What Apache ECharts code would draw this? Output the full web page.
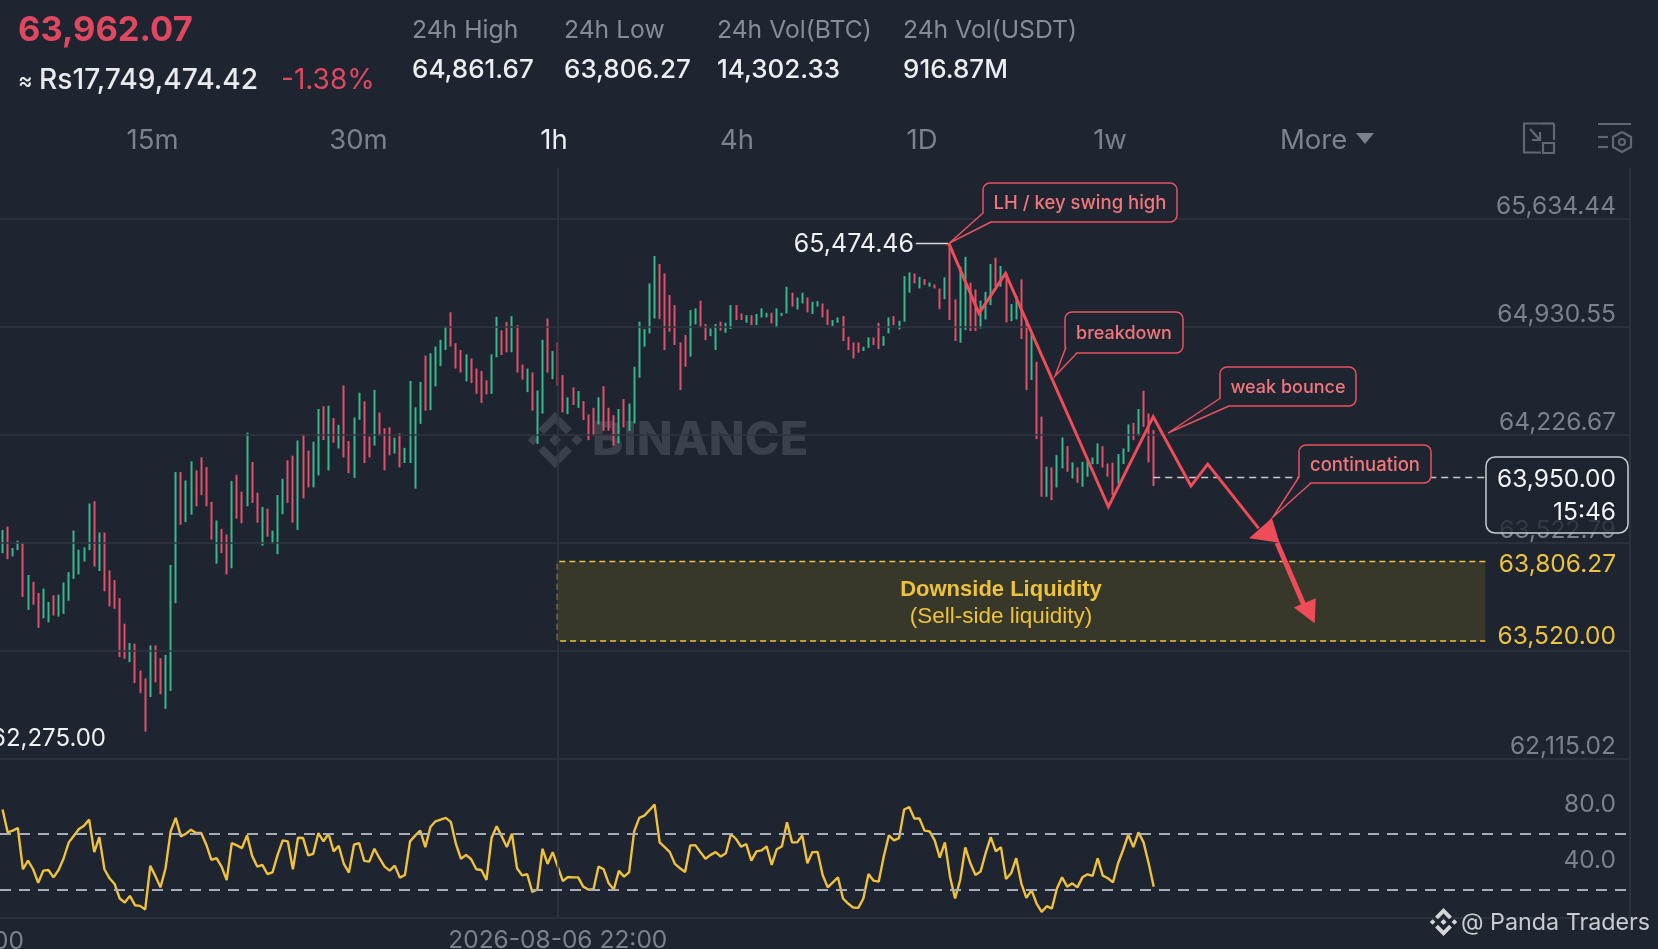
<!DOCTYPE html>
<html><head><meta charset="utf-8">
<style>html,body{margin:0;padding:0;background:#1e2430;overflow:hidden}#c{width:1658px;height:949px}</style>
<script src="https://cdn.jsdelivr.net/npm/echarts@6/dist/echarts.min.js"></script>
</head><body><div id="c"></div>
<script>
const candleDir = "GRGGRGRRGG"+"RGGGGGGGRG"+"RRRRRGRRRG"+"RRGGGRGGRR"+"RRGRRGRRGR"+"RGRGGGRRGR"+"RGGRGRGRRG"+"GRRGRRRGRG"+"GGGRGGGGRR"+"RGRRRRGGRR"+"GRRGRGGRGR"+"RGRGRRRGRR"+"RGRGGGGGGR"+"RRRRRGGRRG"+"GRGGRRGRGG"+"GRGGGRGGRG"+"GRRGGRRRRG"+"GRRGGRGGGR"+"GRGRRGRRGG"+"RRGGGRGRGG"+"RRGRRGRGGR"+"GRGGGGRRRG"+"GGRGRRR";
const candleHigh = [
63608,63630,63490,63538,63523,63314,63270,63197,63226,63138,
63182,63186,63265,63333,63604,63479,63494,63780,63795,63591,
63591,63344,63281,63164,62997,62871,62867,62691,62640,62856,
62856,62772,62794,63380,63985,63985,63930,64055,63996,64081,
64018,63791,63670,63615,63578,63927,63967,63857,64242,64051,
63850,63758,63747,63604,63835,63941,64062,64092,64191,64231,
64125,64183,64396,64414,64418,64337,64293,64550,64187,64341,
64502,64447,64216,64521,64374,64271,64277,64209,64238,64143,
64579,64407,64572,64744,64759,64803,64847,64935,65027,64825,
64781,64752,64726,64660,64645,64583,64752,64997,64909,64964,
65001,64942,64686,64660,64634,64517,64847,64986,64774,64830,
64617,64472,64537,64513,64448,64361,64404,64472,64545,64404,
64356,64396,64461,64432,64671,64965,64917,65215,65393,65341,
65280,65139,65073,64830,64878,65041,65052,65102,64950,64921,
64950,64965,64958,65073,65073,65019,65008,65008,65015,65052,
65023,65023,65052,65023,65193,65154,65123,65154,65123,65095,
65099,65084,65045,64976,64993,65002,64867,64830,64830,64802,
64863,64863,64958,64871,64993,65002,64971,65262,65286,65280,
65258,65243,65221,65208,65182,65254,65475,65110,65323,65388,
65219,65175,65102,65160,65341,65382,65328,65280,65080,65132,
65241,64976,64889,64704,64346,64020,64015,64096,64211,64154,
64048,64015,64052,64059,64081,64172,64154,64041,64046,64102,
64139,64296,64306,64396,64515,64367,64259];
const candleLow = [
63457,63417,63435,63476,63171,63087,63120,62970,63032,63006,
63050,63043,63061,63146,63289,63318,63402,63476,63369,63340,
63208,63109,63094,62779,62768,62746,62610,62544,62293,62519,
62614,62537,62442,62559,63131,63641,63659,63707,63762,63835,
63762,63545,63388,63457,63318,63358,63681,63652,63762,63784,
63655,63505,63564,63516,63450,63710,63784,63655,63608,63813,
63886,63886,63963,64194,63996,64176,64139,64081,63978,63947,
64326,64044,64081,64158,64220,63996,64095,64106,64015,64044,
64044,63877,64299,64385,64389,64543,64675,64781,64803,64660,
64634,64576,64565,64495,64436,64491,64495,64733,64748,64766,
64766,64634,64587,64506,64385,64169,64367,64634,64591,64548,
64374,64363,64422,64404,64324,64193,64222,64296,64254,64254,
64157,64172,64276,64254,64302,64600,64802,64889,64986,64982,
64780,64900,64813,64519,64671,64737,64947,64928,64845,64871,
64780,64906,64893,64917,64976,64976,64958,64943,64943,64993,
64993,64954,64928,65002,65019,65063,65045,65084,65026,65015,
65063,64993,64943,64937,64958,64839,64780,64726,64763,64774,
64795,64813,64787,64808,64889,64943,64915,64965,65154,65215,
65182,65204,65193,65182,65047,65112,64976,64839,64828,64910,
64904,64904,64921,64980,65073,65193,65193,64960,64969,64980,
64852,64519,64585,64200,63824,63824,63802,63885,64009,63987,
63944,63915,63889,63955,64037,64037,64015,63955,63835,63911,
64037,64117,64193,64220,64280,64048,63894];
const rsiValues = [
97.6,81.2,82.4,84.3,54.7,60.9,54.7,45.0,53.7,54.2,
48.9,54.2,62.6,74.0,78.8,83.6,86.0,90.3,67.0,77.8,
54.7,48.2,44.1,33.7,30.8,35.6,28.9,28.4,25.8,57.1,
49.9,41.7,55.4,81.9,91.6,78.3,80.2,83.1,80.7,80.7,
72.3,61.4,62.6,56.6,47.0,73.5,71.8,69.9,79.0,64.3,
56.6,57.8,51.3,52.5,65.0,75.4,74.7,54.7,77.3,77.1,
64.6,65.8,80.7,74.7,80.2,67.5,71.6,58.5,52.3,72.3,
73.5,60.7,60.2,69.4,62.6,56.6,53.7,57.3,48.7,50.6,
74.7,78.8,82.4,70.6,85.0,89.1,90.3,91.6,88.7,73.0,
62.2,65.0,61.9,54.7,54.2,47.0,77.1,85.5,78.3,70.6,
80.2,55.4,50.3,51.1,38.5,40.2,69.4,58.5,67.0,56.6,
46.2,49.1,48.9,48.9,42.2,40.2,40.2,56.6,54.7,44.6,
40.2,53.5,49.4,52.5,81.9,91.6,93.2,97.1,101.2,74.0,
70.6,67.0,58.5,55.4,52.8,71.8,72.0,67.0,62.2,65.0,
67.0,63.8,66.2,80.0,76.4,70.8,72.8,60.9,67.5,68.2,
71.1,57.8,69.1,71.1,88.4,74.0,74.0,79.0,59.0,67.0,
67.2,50.6,41.7,45.3,48.9,33.7,30.1,27.2,27.0,33.7,
51.3,46.5,45.8,63.8,79.0,75.4,77.1,97.6,99.3,91.1,
91.1,82.4,81.9,75.4,63.1,74.0,49.4,33.7,47.0,70.4,
59.0,50.6,53.0,66.2,77.8,67.5,70.6,47.7,51.8,62.6,
44.6,34.2,39.7,30.1,24.1,28.2,26.5,40.9,48.9,42.2,
44.6,41.7,48.9,51.1,49.9,62.6,50.1,48.2,45.3,59.0,
68.7,79.5,70.6,81.2,74.0,59.0,42.2];
const priceTicks = [65634.44,64930.55,64226.67,63522.79,62818.90,62115.02];
const priceLabels = [65634.44,64930.55,64226.67,63522.79,62115.02];
const rsiTicks = [80,40];
const barCount = 320;
const tickLabels = {109:'2026-08-06 22:00'};
// annotation geometry, in bar units and prices
const pathX = [186.3,192.2,197.4,217.6,226.4,233.8,237.1,247.1];
const pathY = [65474,65020,65280,63759,64346,63894,64037,63618];
const arrowX = [250.7,256.4];
const arrowY = [63524,63086];
const arrowHeads = [[249.7,63685,245.2,63553,251.2,63524],[258.3,63162,254,63103,258.1,62999]];
const zoneX = [291.6,109.44,109.44,291.6];
const zoneY = [63402,63402,62884,62884];
const swingX = [179.8,186.2];
const swingY = [65474.46,65474.46];
const lastX = [226.4,291.7];
const lastY = [63950,63950];

const BG='#1e2430',GRID='#2f3641',GREY='#7b828e',RED='#e04760',YEL='#eec23a',CALL='#e8525f',CALLT='#f2777c';
const fmt=v=>v.toLocaleString('en-US',{minimumFractionDigits:2,maximumFractionDigits:2});
const cats=Array.from({length:barCount},(_,i)=>tickLabels[i]||String(i));
const candles=candleHigh.map((h,i)=>candleDir[i]==='G'?[candleLow[i],h,candleLow[i],h]:[h,candleLow[i],candleLow[i],h]);
const pts=(x,y)=>x.map((v,i)=>[v,y[i]]);

const g=[];
function T(text,x,y,font,fill,align){g.push({type:'text',z:100,x,y,style:{text,font,fill,align:align||'left',verticalAlign:'middle'}});}
function L(points,stroke,w,z){g.push({type:'polyline',z:z||100,shape:{points},style:{stroke,lineWidth:w||2,fill:null}});}
function logo(cx,cy,r,fill,z){
  const P=a=>({type:'polygon',z,shape:{points:a.map(p=>[cx+p[0]*r,cy+p[1]*r])},style:{fill}});
  g.push(P([[0,-1],[.6,-.4],[.4,-.2],[0,-.6],[-.4,-.2],[-.6,-.4]]));
  g.push(P([[0,1],[.6,.4],[.4,.2],[0,.6],[-.4,.2],[-.6,.4]]));
  g.push(P([[0,-.22],[.22,0],[0,.22],[-.22,0]]));
  g.push(P([[-.78,-.2],[-.58,0],[-.78,.2],[-.98,0]]));
  g.push(P([[.78,-.2],[.98,0],[.78,.2],[.58,0]]));
}
function callout(text,x,y,w,h,b1,tip,b2,size){
  g.push({type:'rect',z:90,shape:{x,y,width:w,height:h,r:7},style:{fill:BG,stroke:CALL,lineWidth:1.5}});
  g.push({type:'polygon',z:91,shape:{points:[b1,tip,b2]},style:{fill:BG}});
  L([b1,tip,b2],CALL,1.5,92);
  T(text,x+w/2,y+h/2+1,'500 '+size+'px Inter',CALLT,'center');
}
// watermark
logo(555,440,28,'#3a414c',1);
g.push({type:'text',z:1,x:592,y:441,style:{text:'BINANCE',font:'800 47px Inter',fill:'#3a414c',align:'left',verticalAlign:'middle'}});
// header
T('63,962.07',18,31,'700 34.5px Inter',RED);
T('≈',18,81,'500 22px Inter','#e8eaed');
T('Rs17,749,474.42',39,81,'500 28.2px Inter','#e8eaed');
T('-1.38%',281,81,'400 28px Inter',RED);
[['24h High','64,861.67',412],['24h Low','63,806.27',564],['24h Vol(BTC)','14,302.33',717],['24h Vol(USDT)','916.87M',903]].forEach(c=>{
  T(c[0],c[2],31,'400 24.7px Inter','#868d98');
  T(c[1],c[2],70,'500 26px Inter','#eceef1');
});
[['15m',152.5,GREY],['30m',358.5,GREY],['1h',554,'#eceef1'],['4h',737,GREY],['1D',922,GREY],['1w',1110,GREY]].forEach(c=>T(c[0],c[1],141,'400 27.5px Inter',c[2],'center'));
T('More',1280,141,'400 27.5px Inter',GREY);
g.push({type:'polygon',z:100,shape:{points:[[1356,133],[1374,133],[1365,144]]},style:{fill:GREY}});
// toolbar icons
const IC='#616873';
L([[1542,123.5],[1524,123.5],[1524,152.5],[1541,152.5]],IC,2.2);
L([[1554,123.5],[1554,140]],IC,2.2);L([[1542,123.5],[1554,123.5]],IC,2.2);
g.push({type:'rect',z:100,shape:{x:1543,y:143,width:11,height:10},style:{fill:null,stroke:IC,lineWidth:2.2}});
L([[1530,129],[1540,140]],IC,2.2);L([[1540,132],[1540,140],[1532,140]],IC,2.2);
L([[1598,124],[1631,124]],IC,2.2);L([[1598,137],[1608,137]],IC,2.2);L([[1598,147],[1608,147]],IC,2.2);
L([[1622,132],[1631,137],[1631,147],[1622,152],[1613,147],[1613,137],[1622,132]],IC,2.2);
g.push({type:'circle',z:100,shape:{cx:1622,cy:142,r:3},style:{fill:null,stroke:IC,lineWidth:2}});
// chart labels
T('65,474.46',914,244.5,'400 25px Inter','#f0f1f3','right');
T('62,275.00',106,738.5,'400 24px Inter','#f0f1f3','right');
T('2026-08-06 10:00',24,942,'400 24.5px Inter',GREY,'right');
T('Downside Liquidity',1001,590,'bold 22px "Liberation Sans"',YEL,'center');
T('(Sell-side liquidity)',1001,616.5,'400 22.5px "Liberation Sans"',YEL,'center');
T('63,806.27',1616,565,'400 24.5px Inter',YEL,'right');
T('63,520.00',1616,637,'400 24.5px Inter',YEL,'right');
g.push({type:'rect',z:95,shape:{x:1486,y:457,width:142,height:76,r:9},style:{fill:'rgba(30,36,48,0.78)',stroke:'#c9ccd2',lineWidth:1.5}});
T('63,950.00',1616,479.5,'400 24.5px Inter','#f3f4f6','right');
T('15:46',1616,513,'400 24.5px Inter','#f3f4f6','right');
callout('LH / key swing high',983,183,194,39,[983,213],[949.5,243],[991,222],18.5);
callout('breakdown',1065,312,118,41,[1066,347],[1055,376],[1077,353],18);
callout('weak bounce',1220,367,136,39,[1220.5,398],[1168,433],[1229,406],18);
callout('continuation',1299,445,132,38,[1299,477],[1273,517],[1311,483],18.5);
logo(1443.5,922,14,'#d4d6da',100);
T('@ Panda Traders',1461,923,'400 23.3px Inter','#c9ccd1');

const axisLabelBase={inside:true,margin:14,color:GREY,fontFamily:'Inter',fontSize:24.5,verticalAlign:'bottom'};
const option={
  animation:false,backgroundColor:BG,
  grid:[{left:0,top:168,width:1630,height:591,outerBoundsMode:'none'},{left:0,top:750.4,width:1630,height:167.2,outerBoundsMode:'none'}],
  xAxis:[
    {type:'category',gridIndex:0,data:cats,axisLine:{show:false,onZero:false},axisTick:{show:false},axisLabel:{show:false},splitLine:{show:false}},
    {type:'category',gridIndex:1,data:cats,axisLine:{show:true,onZero:false,lineStyle:{color:GRID,width:1.5}},axisTick:{show:false},
      axisLabel:{show:true,interval:i=>tickLabels[i]!==undefined,color:GREY,fontFamily:'Inter',fontSize:24.5,margin:11,formatter:v=>v},splitLine:{show:false}},
    {type:'value',gridIndex:0,min:0,max:barCount,show:false}
  ],
  yAxis:[
    {type:'value',gridIndex:0,position:'right',min:62115.02,max:65966.83,axisLine:{show:true,onZero:false,lineStyle:{color:GRID,width:1.5}},axisTick:{show:false},splitLine:{show:false},
      axisLabel:Object.assign({},axisLabelBase,{customValues:priceLabels,padding:[0,0,0,0],formatter:fmt})},
    {type:'value',gridIndex:1,position:'right',min:20,max:140,axisLine:{show:true,onZero:false,lineStyle:{color:GRID,width:1.5}},axisTick:{show:false},splitLine:{show:false},
      axisLabel:Object.assign({},axisLabelBase,{customValues:rsiTicks,padding:[0,0,17,0],formatter:v=>v.toFixed(1)})}
  ],
  series:[
    {type:'line',xAxisIndex:2,yAxisIndex:0,z:1,data:[],silent:true,
      markLine:{silent:true,symbol:'none',animation:false,label:{show:false},lineStyle:{color:GRID,width:1.5,type:'solid'},
        data:priceTicks.map(v=>({yAxis:v})).concat([{xAxis:109.44}])},
      markArea:{silent:true,animation:false,itemStyle:{color:'rgba(230,190,0,0.125)'},data:[[{xAxis:zoneX[1],yAxis:zoneY[0]},{xAxis:zoneX[0],yAxis:zoneY[2]}]]}},
    {type:'line',xAxisIndex:2,yAxisIndex:0,z:3,data:pts(zoneX,zoneY),showSymbol:false,silent:true,lineStyle:{color:YEL,width:1.5,type:[6,4]}},
    {type:'candlestick',xAxisIndex:0,yAxisIndex:0,z:2,barWidth:2.5,data:candles,silent:true,
      itemStyle:{color:'#35b88e',color0:'#e0506a',borderColor:'#35b88e',borderColor0:'#e0506a',borderWidth:0}},
    {type:'line',xAxisIndex:2,yAxisIndex:0,z:4,data:pts(lastX,lastY),showSymbol:false,silent:true,lineStyle:{color:'#c9ccd2',width:1.5,type:[7,5]}},
    {type:'line',xAxisIndex:2,yAxisIndex:0,z:4,data:pts(swingX,swingY),showSymbol:false,silent:true,lineStyle:{color:'#d5d7db',width:1.5}},
    {type:'line',xAxisIndex:2,yAxisIndex:0,z:5,data:pts(pathX,pathY),showSymbol:false,silent:true,lineStyle:{color:'#ee4c58',width:3,join:'miter'}},
    {type:'line',xAxisIndex:2,yAxisIndex:0,z:5,data:pts(arrowX,arrowY),showSymbol:false,silent:true,lineStyle:{color:'#ee4c58',width:5}},
    {type:'custom',xAxisIndex:2,yAxisIndex:0,z:6,silent:true,data:arrowHeads,clip:false,
      renderItem:(p,api)=>({type:'polygon',shape:{points:[api.coord([api.value(0),api.value(1)]),api.coord([api.value(2),api.value(3)]),api.coord([api.value(4),api.value(5)])]},style:{fill:'#ee4c58'}})},
    {type:'line',xAxisIndex:1,yAxisIndex:1,z:1,data:[],silent:true,
      markLine:{silent:true,symbol:'none',animation:false,label:{show:false},data:[
        {xAxis:109,lineStyle:{color:GRID,width:1.5,type:'solid'}},
        ...rsiTicks.map(v=>({yAxis:v,lineStyle:{color:'#a9adb6',width:2,type:[11,8]}}))]}},
    {type:'line',xAxisIndex:1,yAxisIndex:1,z:3,data:rsiValues,showSymbol:false,silent:true,lineStyle:{color:'#efc13c',width:2.4}}
  ],
  graphic:{elements:g}
};
echarts.init(document.getElementById('c'),null,{renderer:'canvas'}).setOption(option);
</script></body></html>
